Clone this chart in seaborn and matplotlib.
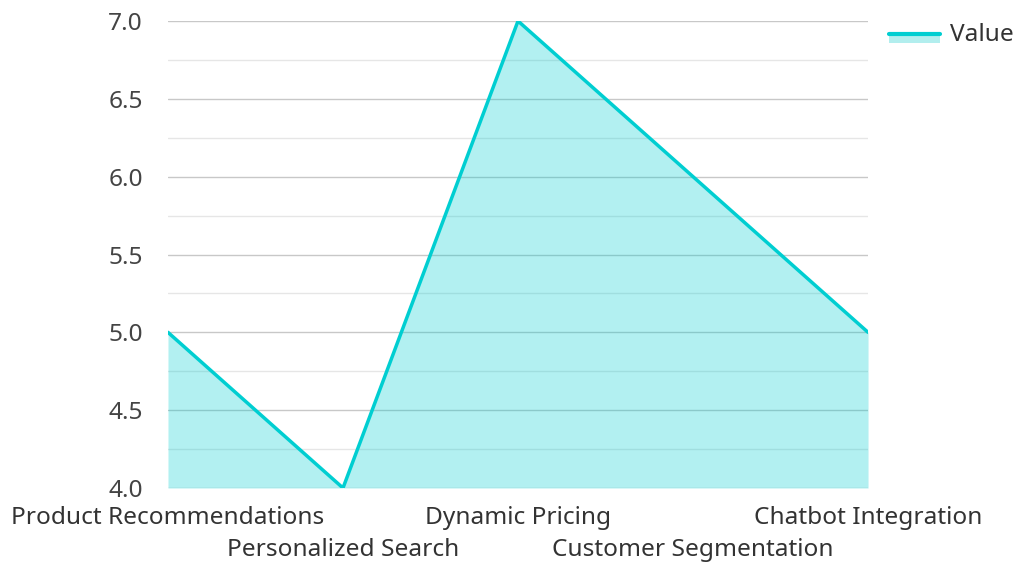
import matplotlib
matplotlib.use("Agg")
import matplotlib.pyplot as plt
import seaborn as sns
import pandas as pd
from matplotlib.legend_handler import HandlerBase
from matplotlib.patches import Rectangle
from matplotlib.lines import Line2D

categories = ["Product Recommendations", "Personalized Search", "Dynamic Pricing",
              "Customer Segmentation", "Chatbot Integration"]
values = [5, 4, 7, 6, 5]
y_ticks = [4.0, 4.5, 5.0, 5.5, 6.0, 6.5, 7.0]

LINE = "#00CED1"
FILL = "#b2eeee"
FS = 17.6

sns.set_theme(style="white")
plt.rcParams["font.family"] = ["Noto Sans", "DejaVu Sans"]

df = pd.DataFrame({"x": range(len(categories)), "Value": values})

fig = plt.figure(figsize=(10.18, 5.63), dpi=100)
ax = fig.add_axes([0.165, 0.1332, 0.6877, 0.8295])

# grid: major every 0.5, minor every 0.25
for y in y_ticks:
    ax.axhline(y, color="#c8c8c8", lw=1, zorder=0)
for y in [4.25, 4.75, 5.25, 5.75, 6.25, 6.75]:
    ax.axhline(y, color="#e6e6e6", lw=1, zorder=0)

ax.fill_between(df["x"], df["Value"], 4.0, color=LINE, alpha=0.3, lw=0, zorder=1)
sns.lineplot(data=df, x="x", y="Value", ax=ax, color=LINE, lw=2.5, zorder=2)

ax.set_xlim(0, len(categories) - 1)
ax.set_ylim(4.0, 7.0)
ax.set_yticks(y_ticks)
ax.set_yticklabels([f"{v:.1f}" for v in y_ticks], fontsize=FS, color="#444444")
ax.set_xticks(range(len(categories)))
ax.set_xticklabels(categories, fontsize=FS, color="#333333")
ax.tick_params(axis="both", length=0)
ax.tick_params(axis="y", pad=18)
# alternate the x labels on two rows
for i, t in enumerate(ax.xaxis.get_major_ticks()):
    t.set_pad(13 if i % 2 == 0 else 36)
ax.set_xlabel("")
ax.set_ylabel("")
for s in ax.spines.values():
    s.set_visible(False)


class AreaHandler(HandlerBase):
    def create_artists(self, legend, orig, xd, yd, w, h, fs, trans):
        r = Rectangle((xd, yd - 0.1 * h), w, 0.55 * h, facecolor=FILL, edgecolor="none", transform=trans)
        l = Line2D([xd, xd + w], [yd + 0.45 * h, yd + 0.45 * h], color=LINE, lw=3, transform=trans)
        return [r, l]


handle = Rectangle((0, 0), 1, 1)
fig.legend([handle], ["Value"], handler_map={Rectangle: AreaHandler()},
           loc="upper right", bbox_to_anchor=(1.008, 0.98), frameon=False, borderaxespad=0.1,
           fontsize=FS, handlelength=2.1, handletextpad=0.4, labelcolor="#333333")

fig.savefig("out.png", dpi=100)
